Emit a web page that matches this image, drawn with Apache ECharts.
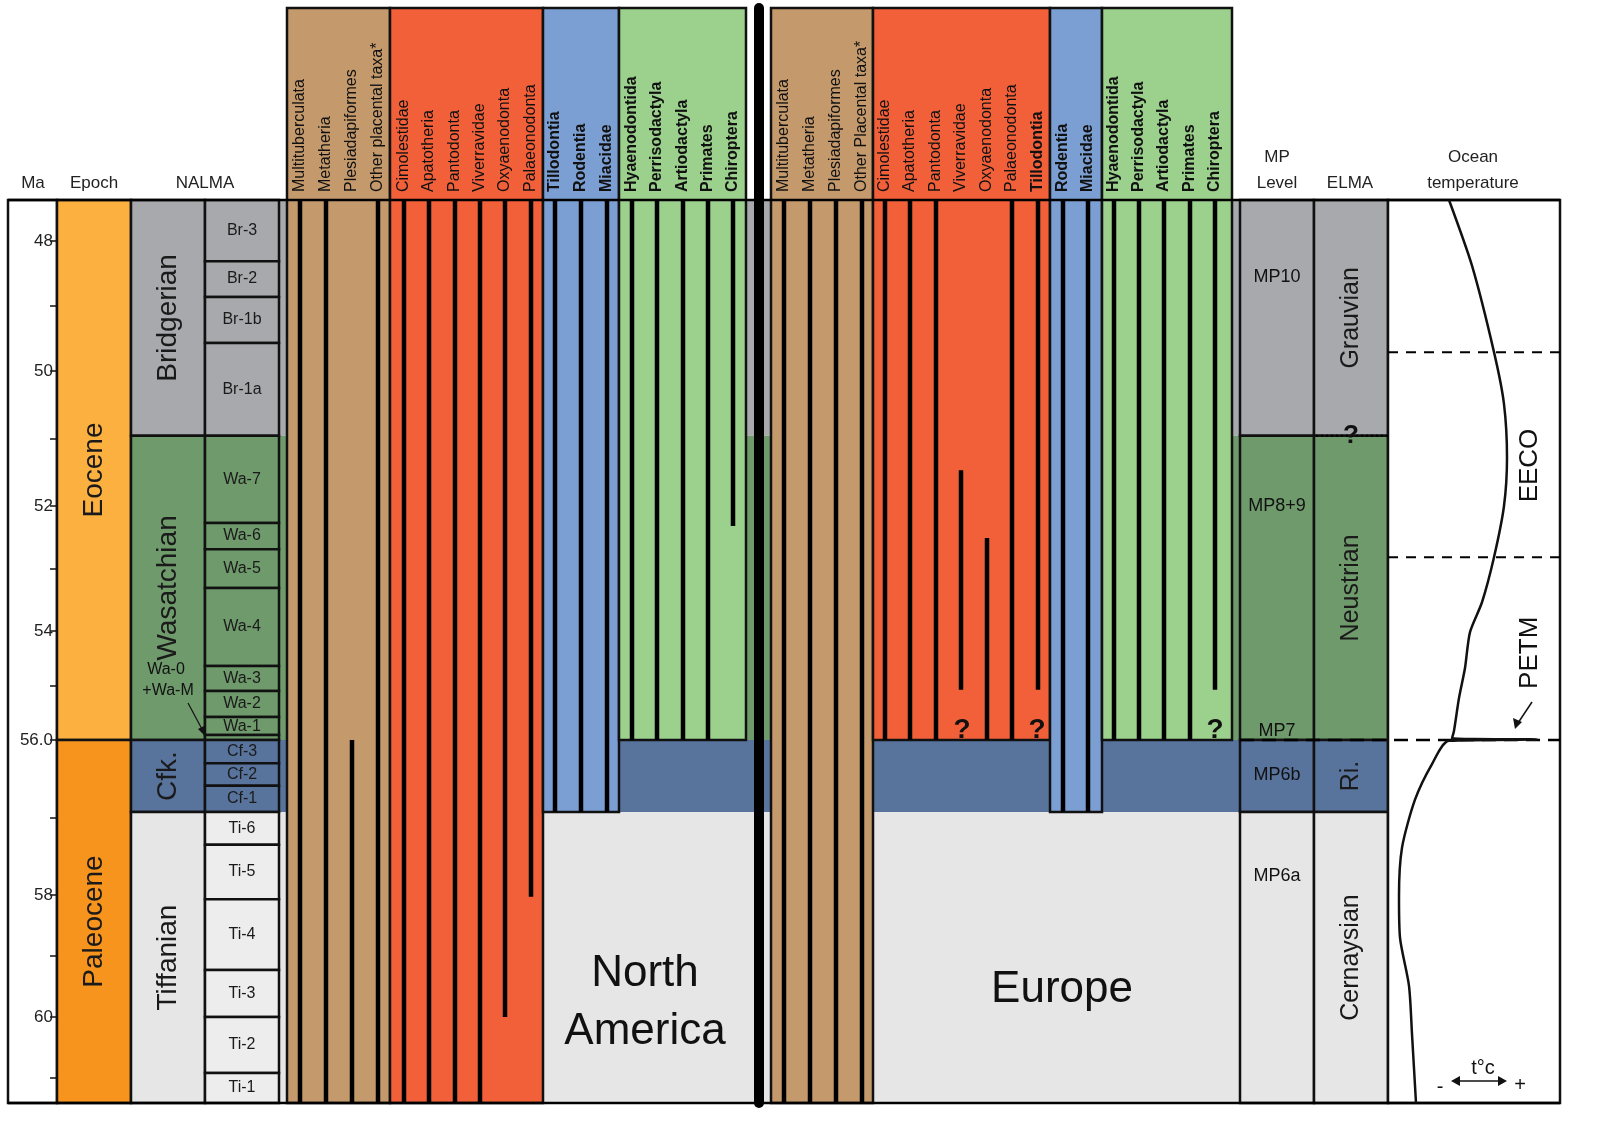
<!DOCTYPE html>
<html>
<head>
<meta charset="utf-8">
<script src="https://cdn.jsdelivr.net/npm/echarts@6/dist/echarts.min.js"></script>
</head>
<body style="margin:0;background:#fff;overflow:hidden">
<div id="main" style="width:1600px;height:1135px;"></div>
<script>
// Ma scale of the figure is not linear: knots of the drawn scale
var MA_KNOTS  = [47.37, 48, 50, 52, 54, 56, 58, 60, 61.41];
var POS_KNOTS = [0, 41, 171, 306, 431, 540, 695, 817, 903];
var MA_LABELS = [48, 50, 52, 54, 56, 58, 60];
var MA_MINOR  = [48, 49, 50, 51, 52, 53, 54, 55, 56, 57, 58, 59, 60, 61];
var TOP = 47.37, BOT = 61.41;

// zones (gray / green / blue / light)
var ZONE_BOUNDS = [47.37, 50.96, 56, 56.93, 61.41];
var ZONE_COLORS = ['#A7A9AC', '#6F9A6B', '#58739C', '#E6E6E6'];
var NALMA = ['Bridgerian', 'Wasatchian', 'Cfk.', 'Tiffanian'];
var ELMA  = ['Grauvian', 'Neustrian', 'Ri.', 'Cernaysian'];
var EPOCHS = ['Eocene', 'Paleocene'];
var EPOCH_BOUNDS = [47.37, 56, 61.41];

var SUB_NAMES = ['Br-3','Br-2','Br-1b','Br-1a','Wa-7','Wa-6','Wa-5','Wa-4','Wa-3','Wa-2','Wa-1','','Cf-3','Cf-2','Cf-1','Ti-6','Ti-5','Ti-4','Ti-3','Ti-2','Ti-1'];
var SUB_BOUNDS = [47.37,48.31,48.86,49.57,50.96,52.27,52.69,53.31,54.64,55.10,55.58,55.91,56.0,56.30,56.59,56.93,57.35,58.07,59.23,60.0,60.92,61.41];

var MP_LABEL_TEXT = ['MP10', 'MP8+9', 'MP7', 'MP6b', 'MP6a'];
var MP_LABEL_MA   = [48.55, 52.0, 55.83, 56.45, 57.75];

// taxa
var NA_TAXA = ['Multituberculata','Metatheria','Plesiadapiformes','Other placental taxa*','Cimolestidae','Apatotheria','Pantodonta','Viverravidae','Oxyaenodonta','Palaeonodonta','Tillodontia','Rodentia','Miacidae','Hyaenodontida','Perrisodactyla','Artiodactyla','Primates','Chiroptera'];
var NA_X    = [300,326,352,378,404,429,455,480,505,531,555,581,607,632,657,683,708,733];
var NA_FROM = [47.37,47.37,56,47.37,47.37,47.37,47.37,47.37,47.37,47.37,47.37,47.37,47.37,47.37,47.37,47.37,47.37,47.37];
var NA_TO   = [61.41,61.41,61.41,61.41,61.41,61.41,61.41,61.41,60,58.03,56.93,56.93,56.93,56,56,56,56,52.32];
var EU_TAXA = ['Multituberculata','Metatheria','Plesiadapiformes','Other Placental taxa*','Cimolestidae','Apatotheria','Pantodonta','Viverravidae','Oxyaenodonta','Palaeonodonta','Tillodontia','Rodentia','Miacidae','Hyaenodontida','Perrisodactyla','Artiodactyla','Primates','Chiroptera'];
var EU_X    = [784,810,836,862,885,910,936,961,987,1012,1038,1063,1088,1114,1139,1164,1190,1215];
var EU_FROM = [47.37,47.37,47.37,47.37,47.37,47.37,47.37,51.47,52.51,47.37,47.37,47.37,47.37,47.37,47.37,47.37,47.37,47.37];
var EU_TO   = [61.41,61.41,61.41,61.41,56,56,56,55.08,56,56,55.08,56.93,56.93,56,56,56,56,55.08];
var BOLD_FROM = 10;
var QMARK_X = [962, 1037, 1215];

// ocean temperature (relative units) against Ma
var TEMP_MA  = [47.37,48.38,49.71,50.49,51.29,52.0,52.82,53.54,54.02,54.68,55.23,55.83,55.97,55.99,56.01,56.31,56.77,57.39,58.02,58.70,59.49,60.28,61.41];
var TEMP_VAL = [61,84,106,116,119,116,106,94,82,77,71,66,64,149,61,44,27,14,11,12,21,24,28];

var BROWN = '#C49A6C', RED = '#F2603A', BLUE = '#7C9FD3', GREEN = '#9BD08D';
var FONT = '"Liberation Sans", Arial, sans-serif';
var HEAD = -192; // depth of the top of the taxa columns

function yd(ma) {
    if (ma === 'top') return HEAD;
    for (var i = 1; i < MA_KNOTS.length; i++) {
        if (ma <= MA_KNOTS[i] || i === MA_KNOTS.length - 1) {
            var a = MA_KNOTS[i - 1], b = MA_KNOTS[i];
            return POS_KNOTS[i - 1] + (ma - a) / (b - a) * (POS_KNOTS[i] - POS_KNOTS[i - 1]);
        }
    }
}

var rects = [];
function R(x0, x1, t, b, fill, o) {
    o = o || {};
    rects.push({x0: x0, x1: x1, t: t, b: b, fill: fill, lw: o.lw == null ? 2.5 : o.lw,
        text: o.text, rot: o.rot, size: o.size || 16, stroke: o.stroke || '#111'});
}
// background zones across taxa area
for (var i = 0; i < 4; i++) R(279, 1240, ZONE_BOUNDS[i], ZONE_BOUNDS[i + 1], ZONE_COLORS[i], {lw: 0});
// Ma column
R(8, 57, TOP, BOT, '#fff');
for (i = 0; i < 2; i++) R(57, 131, EPOCH_BOUNDS[i], EPOCH_BOUNDS[i + 1], i ? '#F7941D' : '#FBB040', {text: EPOCHS[i], rot: true, size: 28});
for (i = 0; i < 4; i++) {
    R(131, 205, ZONE_BOUNDS[i], ZONE_BOUNDS[i + 1], ZONE_COLORS[i], {text: NALMA[i], rot: true, size: 28});
    R(1240, 1314, ZONE_BOUNDS[i], ZONE_BOUNDS[i + 1], ZONE_COLORS[i]);
    R(1314, 1388, ZONE_BOUNDS[i], ZONE_BOUNDS[i + 1], ZONE_COLORS[i], {text: ELMA[i], rot: true, size: 25});
}
for (i = 0; i < SUB_NAMES.length; i++) {
    var m = (SUB_BOUNDS[i] + SUB_BOUNDS[i + 1]) / 2;
    var c = m < 50.96 ? ZONE_COLORS[0] : m < 56 ? ZONE_COLORS[1] : m < 56.93 ? ZONE_COLORS[2] : '#EDEDED';
    R(205, 279, SUB_BOUNDS[i], SUB_BOUNDS[i + 1], c, {text: SUB_NAMES[i], size: 16});
}
// taxa blocks
R(287, 390, 'top', BOT, BROWN);
R(390, 543, 'top', BOT, RED);
R(543, 619, 'top', 56.93, BLUE);
R(619, 746, 'top', 56, GREEN);
R(771, 873, 'top', BOT, BROWN);
R(873, 1050, 'top', 56, RED);
R(1050, 1102, 'top', 56.93, BLUE);
R(1102, 1232, 'top', 56, GREEN);
R(1388, 1560, TOP, BOT, '#fff');

var lines = [];
function L(x0, m0, x1, m1, w, dash, cap) { lines.push({x0: x0, m0: m0, x1: x1, m1: m1, w: w, dash: dash, cap: cap}); }
for (i = 0; i < NA_X.length; i++) L(NA_X[i], NA_FROM[i], NA_X[i], NA_TO[i], 4.5);
for (i = 0; i < EU_X.length; i++) L(EU_X[i], EU_FROM[i], EU_X[i], EU_TO[i], 4.5);
L(759, 'top', 759, BOT, 10, null, 'round');
L(1388, 49.71, 1560, 49.71, 2, [10, 8]);
L(1388, 52.82, 1560, 52.82, 2, [10, 8]);
L(1240, 56, 1560, 56, 2.5, [14, 8]);
L(1316, 50.96, 1388, 50.96, 2, [2, 3]);
L(8, TOP, 1560, TOP, 2.5);
L(8, BOT, 1560, BOT, 2.5);

var labels = [];
for (i = 0; i < MP_LABEL_TEXT.length; i++) labels.push({x: 1277, m: MP_LABEL_MA[i], text: MP_LABEL_TEXT[i], size: 18});
for (i = 0; i < QMARK_X.length; i++) labels.push({x: QMARK_X[i], m: 55.83, text: '?', size: 28, bold: true});
labels.push({x: 1351, m: 50.96, text: '?', size: 26, bold: true});
labels.push({x: 645, m: 59.3, text: 'North', size: 44});
labels.push({x: 645, m: 60.25, text: 'America', size: 44});
labels.push({x: 1062, m: 59.55, text: 'Europe', size: 44});
labels.push({x: 166, m: 54.7, text: 'Wa-0', size: 16});
labels.push({x: 168, m: 55.1, text: '+Wa-M', size: 16});
labels.push({x: 1530, m: 51.4, text: 'EECO', size: 26, rot: true});
labels.push({x: 1530, m: 54.4, text: 'PETM', size: 26, rot: true});
labels.push({x: 1483, m: 60.85, text: 't°c', size: 20});
labels.push({x: 1440, m: 61.15, text: '-', size: 20});
labels.push({x: 1520, m: 61.13, text: '+', size: 20});

var graphics = [];
function head(x, y, t) { graphics.push({type: 'text', z: 100, x: x, y: y, style: {text: t, font: '17px ' + FONT, fill: '#222', align: 'center', verticalAlign: 'middle'}}); }
head(33, 183, 'Ma'); head(94, 183, 'Epoch'); head(205, 183, 'NALMA');
head(1277, 157, 'MP'); head(1277, 183, 'Level'); head(1350, 183, 'ELMA');
head(1473, 157, 'Ocean'); head(1473, 183, 'temperature');
function taxa(names, xs) {
    names.forEach(function (n, k) {
        graphics.push({type: 'text', z: 100, x: xs[k], y: 192, rotation: Math.PI / 2,
            style: {text: n, font: (k >= BOLD_FROM ? 'bold ' : '') + '16px ' + FONT, fill: '#111', align: 'left', verticalAlign: 'middle'}});
    });
}
taxa(NA_TAXA, NA_X); taxa(EU_TAXA, EU_X);
function gl(x1, y1, x2, y2, w) { graphics.push({type: 'line', z: 100, shape: {x1: x1, y1: y1, x2: x2, y2: y2}, style: {stroke: '#111', lineWidth: w}}); }
function gp(pts) { graphics.push({type: 'polygon', z: 100, shape: {points: pts}, style: {fill: '#111'}}); }
gl(188, 703, 203, 731, 1.2); gp([[205, 736], [198, 729], [204, 726]]);
gl(1532, 702, 1518, 723, 1.5); gp([[1515, 729], [1513, 718], [1522, 722]]);
gl(1456, 1081, 1502, 1081, 1.5);
gp([[1451, 1081], [1460, 1076], [1460, 1086]]); gp([[1507, 1081], [1498, 1076], [1498, 1086]]);

var myChart = echarts.init(document.getElementById('main'));
var option = {
    animation: false,
    grid: {left: 8, top: 8, width: 1552, height: 1095},
    xAxis: {type: 'value', min: 8, max: 1560, show: false},
    yAxis: {
        type: 'value', min: HEAD, max: 903, inverse: true, offset: -49, z: 20,
        axisLine: {show: false}, splitLine: {show: false},
        axisTick: {show: true, length: 7, customValues: MA_MINOR.map(yd), lineStyle: {color: '#111', width: 1.5}},
        axisLabel: {
            customValues: MA_LABELS.map(yd), fontSize: 17, color: '#222', fontFamily: 'Liberation Sans', margin: 4,
            formatter: function (v) {
                for (var k = 0; k < MA_LABELS.length; k++) if (Math.abs(yd(MA_LABELS[k]) - v) < 0.5) return MA_LABELS[k] === 56 ? '56.0' : String(MA_LABELS[k]);
                return '';
            }
        }
    },
    graphic: graphics,
    series: [
        {
            type: 'custom', z: 1, silent: true,
            data: rects.map(function (r) { return [r.x0, yd(r.t)]; }),
            renderItem: function (params, api) {
                var r = rects[params.dataIndex];
                var p0 = api.coord([r.x0, yd(r.t)]), p1 = api.coord([r.x1, yd(r.b)]);
                var ch = [{type: 'rect', shape: {x: p0[0], y: p0[1], width: p1[0] - p0[0], height: p1[1] - p0[1]},
                    style: {fill: r.fill, stroke: r.lw ? r.stroke : null, lineWidth: r.lw}}];
                if (r.text) ch.push({type: 'text', x: (p0[0] + p1[0]) / 2, y: (p0[1] + p1[1]) / 2, rotation: r.rot ? Math.PI / 2 : 0,
                    style: {text: r.text, font: r.size + 'px ' + FONT, fill: '#1a1a1a', align: 'center', verticalAlign: 'middle'}});
                return {type: 'group', children: ch};
            }
        },
        {
            type: 'custom', z: 3, silent: true,
            data: lines.map(function (l) { return [l.x0, yd(l.m0)]; }),
            renderItem: function (params, api) {
                var l = lines[params.dataIndex];
                var p0 = api.coord([l.x0, yd(l.m0)]), p1 = api.coord([l.x1, yd(l.m1)]);
                return {type: 'line', shape: {x1: p0[0], y1: p0[1], x2: p1[0], y2: p1[1]},
                    style: {stroke: '#000', lineWidth: l.w, lineDash: l.dash || null, lineCap: l.cap || 'butt'}};
            }
        },
        {
            type: 'custom', z: 4, silent: true,
            data: labels.map(function (t) { return [t.x, yd(t.m)]; }),
            renderItem: function (params, api) {
                var t = labels[params.dataIndex];
                var p = api.coord([t.x, yd(t.m)]);
                return {type: 'text', x: p[0], y: p[1], rotation: t.rot ? Math.PI / 2 : 0,
                    style: {text: t.text, font: (t.bold ? 'bold ' : '') + t.size + 'px ' + FONT, fill: '#111', align: 'center', verticalAlign: 'middle'}};
            }
        },
        {
            type: 'line', z: 5, silent: true, showSymbol: false, symbol: 'none', smooth: 0.25,
            lineStyle: {color: '#111', width: 2.5},
            data: TEMP_MA.map(function (ma, k) { return [1388 + TEMP_VAL[k], yd(ma)]; })
        }
    ]
};
myChart.setOption(option);
</script>
</body>
</html>
